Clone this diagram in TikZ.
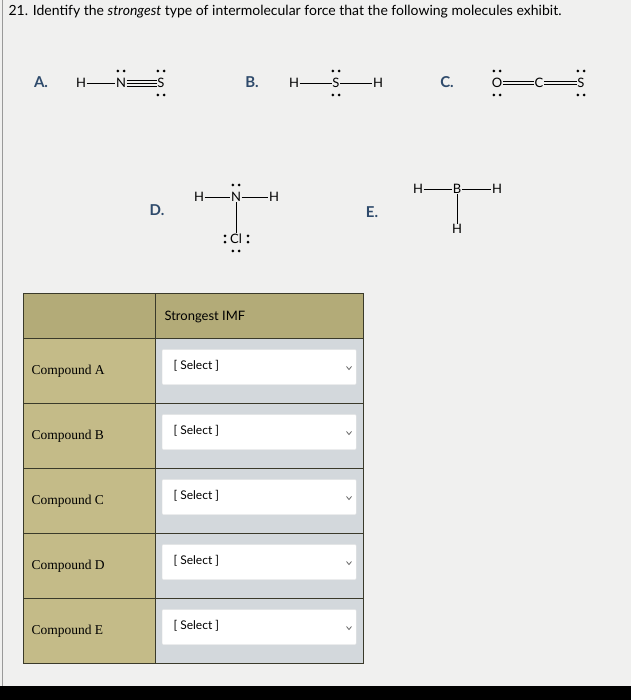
\documentclass[tikz,border=0pt]{standalone}
\usepackage{fontspec}
\setmainfont{Lato}
\newfontfamily\serifc{Liberation Serif}
\definecolor{bg}{HTML}{F0F0EF}
\definecolor{hdr}{HTML}{B3AB78}
\definecolor{cellc}{HTML}{C4BB88}
\definecolor{selbg}{HTML}{D3D8DC}
\definecolor{lblc}{HTML}{2E4A6B}
\definecolor{gridc}{HTML}{3A3A2A}
\tikzset{
 lab/.style={font=\bfseries\fontsize{15}{17}\selectfont,text=lblc},
 at0/.style={font=\fontsize{13}{15}\selectfont,inner sep=0.5pt},
 bd/.style={line width=0.8pt},
 comp/.style={font=\serifc\fontsize{13.5}{15}\selectfont,anchor=west},
 selbox/.style={fill=white,draw=black!10,rounded corners=1pt,minimum width=194pt,minimum height=35pt,anchor=west},
 seltxt/.style={font=\fontsize{12}{14}\selectfont,anchor=west}
}
\newcommand\lpd[2]{\fill ({#1-3.2},#2) circle (1.5pt) ({#1+3.2},#2) circle (1.5pt);}
\newcommand\lpv[2]{\fill (#1,{#2-3.2}) circle (1.5pt) (#1,{#2+3.2}) circle (1.5pt);}
\begin{document}
\begin{tikzpicture}[x=1pt,y=-1pt]
\fill[bg] (0,0) rectangle (631,700);
\useasboundingbox (0,0) rectangle (631,700);
\fill[black] (0,686) rectangle (631,700);
\draw[black!40] (2,0) -- (2,686);
\node[anchor=west,font=\fontsize{14}{16}\selectfont] (title) at (5,12) {21. Identify the \textit{strongest} type of intermolecular force that the following molecules exhibit.};
% A
\node[lab] (la) at (41,82) {A.};
\node[at0] (ah) at (81,83) {H};
\node[at0] (an) at (121,83) {N};
\node[at0] (as) at (161,83) {S};
\draw[bd] (ah) -- (an);
\draw[bd] ([yshift=-3pt]an.east) -- ([yshift=-3pt]as.west) (an.east) -- (as.west) ([yshift=3pt]an.east) -- ([yshift=3pt]as.west);
\lpd{121}{71} \lpd{161}{71} \lpd{161}{95}
% B
\node[lab] (lb) at (252,82) {B.};
\node[at0] (bh1) at (294,83) {H};
\node[at0] (bs) at (336,83) {S};
\node[at0] (bh2) at (378,83) {H};
\draw[bd] (bh1) -- (bs) -- (bh2);
\lpd{336}{71} \lpd{336}{95}
% C
\node[lab] (lc) at (447,82) {C.};
\node[at0] (co) at (497,83) {O};
\node[at0] (cc) at (539,83) {C};
\node[at0] (cs) at (581,83) {S};
\draw[bd] ([yshift=-1.8pt]co.east) -- ([yshift=-1.8pt]cc.west) ([yshift=1.8pt]co.east) -- ([yshift=1.8pt]cc.west);
\draw[bd] ([yshift=-1.8pt]cc.east) -- ([yshift=-1.8pt]cs.west) ([yshift=1.8pt]cc.east) -- ([yshift=1.8pt]cs.west);
\lpd{497}{71} \lpd{497}{95} \lpd{581}{71} \lpd{581}{95}
% D
\node[lab] (ld) at (157,210) {D.};
\node[at0] (dh1) at (199,197) {H};
\node[at0] (dn) at (236,197) {N};
\node[at0] (dh2) at (274,197) {H};
\node[at0] (dcl) at (236,239) {Cl};
\draw[bd] (dh1) -- (dn) -- (dh2);
\draw[bd] (dn) -- (dcl);
\lpd{236}{185} \lpd{236}{251} \lpv{225}{239} \lpv{248}{239}
% E
\node[lab] (le) at (372,212) {E.};
\node[at0] (eh1) at (418,189) {H};
\node[at0] (eb) at (457,189) {B};
\node[at0] (eh2) at (497,189) {H};
\node[at0] (eh3) at (457,229) {H};
\draw[bd] (eh1) -- (eb) -- (eh2);
\draw[bd] (eb) -- (eh3);
% table
\fill[hdr] (23,293) rectangle (363,338);
\fill[cellc] (23,338) rectangle (155,663);
\fill[selbg] (155,338) rectangle (363,663);
\foreach \y in {338,403,468,533,598} \draw[gridc,line width=0.8pt] (23,\y) -- (363,\y);
\draw[gridc,line width=0.8pt] (23,293) rectangle (363,663) (155,293) -- (155,663);
\node[anchor=west,font=\fontsize{13}{15}\selectfont] (hd) at (161,317) {Strongest IMF};
\foreach \n/\l/\y in {a/A/371,b/B/436,c/C/501,d/D/566,e/E/631}{
 \node[comp] (c\n) at (28,\y) {Compound \l};
 \node[selbox] (s\n) at (162,\y-4) {};
 \node[seltxt] (t\n) at (170,\y-5) {[ Select ]};
 \coordinate (v\n) at (349,\y-3);
 \draw[black!60,line width=0.8pt] ([shift={(-2.5,-1.5)}]v\n) -- ([shift={(0,1.5)}]v\n) -- ([shift={(2.5,-1.5)}]v\n);
}
\end{tikzpicture}
\end{document}
